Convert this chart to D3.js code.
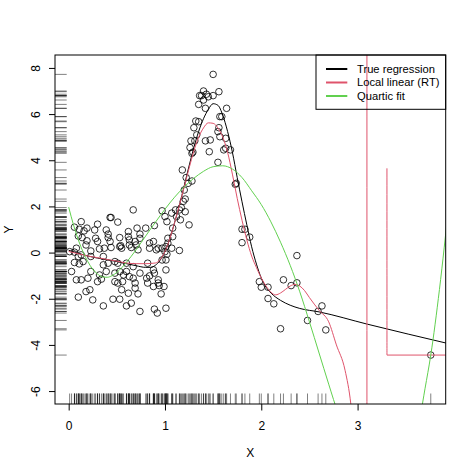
<!DOCTYPE html>
<html>
<head>
<meta charset="utf-8">
<script src="https://cdn.jsdelivr.net/npm/d3@7"></script>
<style>
body { margin: 0; background: #fff; }
text { font-family: "Liberation Sans", Arial, Helvetica, sans-serif; }
</style>
</head>
<body>
<div id="chart"></div>
<script>
// scatter points
const pointX = [0.67,0.43,0.44,0.97,1.00,1.02,0.13,0.06,0.11,0.16,
  0.19,0.30,0.27,0.39,0.41,0.62,0.62,0.71,0.74,0.80,
  0.89,0.51,1.08,0.10,0.14,0.19,0.28,0.30,0.41,0.43,
  0.53,0.63,0.69,0.74,0.84,0.88,1.03,1.08,0.37,0.44,
  0.53,0.54,0.55,0.32,0.65,0.72,0.84,0.93,1.07,0.01,
  0.06,0.23,0.08,0.18,0.63,0.70,1.01,1.15,0.91,0.06,
  0.11,0.15,0.13,0.10,0.23,0.36,0.41,0.36,0.48,0.51,
  0.60,0.67,0.82,1.01,0.03,0.23,0.32,0.34,0.30,0.39,
  0.48,0.53,0.57,0.60,0.63,0.67,0.74,0.81,0.84,0.89,
  0.93,1.01,0.08,0.13,0.20,0.48,0.51,0.56,0.69,0.69,
  0.82,0.88,0.99,0.18,0.22,0.55,0.62,0.72,0.96,0.10,
  0.25,0.46,0.53,0.65,0.60,0.36,0.74,0.89,0.92,1.01,
  0.97,1.00,1.02,0.97,0.88,0.93,0.94,1.03,1.25,1.16,
  1.11,1.15,1.17,1.21,1.21,1.19,1.12,1.07,1.18,1.22,
  1.28,1.24,1.20,1.26,1.28,1.29,1.27,1.31,1.33,1.30,
  1.32,1.35,1.35,1.42,1.40,1.36,1.38,1.40,1.43,1.45,
  1.50,1.56,1.50,1.64,1.57,1.59,1.56,1.55,1.57,1.63,
  1.42,1.47,1.61,1.63,1.68,1.46,1.55,1.73,1.74,1.80,
  1.83,1.88,1.80,2.37,1.98,2.00,2.07,2.23,2.31,2.37,
  2.07,2.13,2.20,2.63,2.59,2.48,2.67,3.76];
const pointY = [1.85,1.52,1.52,1.81,1.56,1.34,1.34,1.10,1.01,0.94,
  1.06,1.23,0.98,0.98,0.80,0.91,0.69,1.06,0.80,1.06,
  1.17,1.32,1.06,0.72,0.65,0.51,0.62,0.48,0.65,0.48,
  0.65,0.55,0.48,0.62,0.41,0.48,0.62,0.69,0.19,0.22,
  0.26,0.30,0.19,0.16,0.22,0.12,0.19,0.19,0.19,0.04,
  0.02,0.07,0.19,0.33,0.33,0.33,0.26,0.09,0.12,-0.43,
  -0.49,-0.39,-0.10,-0.17,-0.17,-0.17,-0.46,-0.53,-0.39,-0.46,
  -0.46,-0.61,-0.46,-0.32,-0.82,-0.82,-0.97,-1.15,-1.26,-0.82,
  -0.89,-0.82,-0.97,-0.82,-1.04,-1.11,-0.89,-1.11,-1.01,-0.89,
  -1.32,-0.75,-1.18,-1.18,-1.11,-1.26,-1.32,-1.26,-1.32,-1.54,
  -1.32,-1.47,-1.47,-1.69,-1.61,-1.61,-1.76,-1.79,-1.79,-1.93,
  -2.05,-2.02,-2.02,-2.19,-2.31,-2.31,-2.55,-2.45,-2.62,-2.41,
  0.19,0.04,-0.07,-0.32,-0.75,-1.18,-1.43,0.41,1.20,1.42,
  1.85,1.85,1.95,1.77,2.32,2.22,1.56,1.71,3.58,3.25,
  3.10,3.00,2.71,4.55,4.30,4.35,4.84,4.84,5.10,5.41,
  5.70,5.67,6.42,6.25,6.61,6.80,6.80,7.00,6.86,6.75,
  6.80,6.97,7.72,6.25,5.89,5.89,5.41,5.24,5.02,4.95,
  4.84,4.88,4.45,4.52,4.45,4.37,3.91,2.96,3.00,1.01,
  1.01,0.67,0.43,-0.13,-1.26,-1.50,-1.50,-1.18,-1.43,-1.31,
  -1.99,-2.22,-3.30,-2.31,-2.55,-2.94,-3.35,-4.44];

// true regression curve
const trueX = [0,0.1,0.2,0.3,0.4,0.5,0.6,0.7,0.8,0.85,0.9,0.95,1.0,1.05,1.1,1.15,1.2,1.25,1.3,1.35,
  1.4,1.45,1.5,1.55,1.6,1.65,1.7,1.75,1.8,1.85,1.9,1.95,2.0,2.05,2.1,2.2,2.3,2.4,2.6,3.1,3.95];
const trueY = [0.10,-0.03,-0.15,-0.24,-0.31,-0.39,-0.48,-0.57,-0.64,-0.64,-0.55,-0.33,0.05,0.60,1.30,2.05,2.90,3.75,4.55,5.25,
  5.80,6.20,6.45,6.38,5.95,5.25,4.35,3.25,2.20,1.20,0.25,-0.50,-1.10,-1.50,-1.75,-2.07,-2.28,-2.42,-2.57,-3.10,-3.95];

// local linear (RT) estimate, null = no value
const localX = [0,0.1,0.2,0.3,0.4,0.5,0.6,0.7,0.8,0.9,0.95,1.0,1.05,1.1,1.15,1.2,1.25,1.3,1.35,1.4,
  1.45,1.5,1.55,1.6,1.65,1.7,1.75,1.8,1.85,1.9,1.95,2.0,2.05,2.1,2.15,2.2,2.25,2.3,2.35,2.4,
  2.45,2.5,2.6,2.7,2.78,2.87,2.93,3.0,3.06,3.0969,3.0971,3.2,3.3049,3.3051,3.95];
const localY = [0.05,-0.05,-0.15,-0.22,-0.30,-0.37,-0.45,-0.48,-0.48,-0.45,-0.30,0.05,0.60,1.30,2.05,2.85,3.65,4.40,5.00,5.40,
  5.62,5.60,5.40,5.00,4.35,3.40,2.35,1.40,0.55,-0.15,-0.65,-1.10,-1.45,-1.72,-1.83,-1.75,-1.60,-1.45,-1.38,-1.45,
  -1.65,-1.95,-2.50,-3.00,-4.00,-5.10,-6.56,-10,-30,-300,300,null,3.65,-4.44,-4.44];

// quartic fit
const quartX = [0,0.05,0.1,0.15,0.2,0.25,0.3,0.35,0.4,0.45,0.5,0.55,0.6,0.65,0.7,0.75,0.8,0.85,0.9,0.95,
  1.0,1.1,1.2,1.3,1.4,1.5,1.6,1.7,1.8,1.9,2.0,2.1,2.2,2.3,2.4,2.5,2.6,2.7,2.8,3.0,
  3.2,3.4,3.55,3.65,3.7,3.76,3.85,3.95];
const quartY = [1.97,1.20,0.55,0.02,-0.40,-0.72,-0.93,-1.05,-1.07,-1.00,-0.86,-0.66,-0.42,-0.16,0.12,0.42,0.72,1.02,1.31,1.60,
  1.88,2.40,2.85,3.22,3.52,3.72,3.76,3.62,3.25,2.68,2.08,1.33,0.45,-0.55,-1.70,-3.00,-4.35,-5.70,-7.00,-9.00,
  -10.0,-9.9,-8.8,-7.1,-5.9,-4.44,-1.6,2.2];

const xTicks = [0, 1, 2, 3];
const yTicks = [-6, -4, -2, 0, 2, 4, 6, 8];
const legendLabels = ['True regression', 'Local linear (RT)', 'Quartic fit'];
const colors = ['#000000', '#DF536B', '#61D04F'];

const W = 474, H = 474;
const margin = { top: 55, right: 28.3, bottom: 70, left: 55 };

const svg = d3.select('#chart').append('svg')
    .attr('width', W)
    .attr('height', H);
svg.append('rect').attr('width', W).attr('height', H).attr('fill', '#fff');

const x = d3.scaleLinear().domain([-0.142, 3.915]).range([margin.left, W - margin.right]);
const y = d3.scaleLinear().domain([-6.56, 8.56]).range([H - margin.bottom, margin.top]);
const [x0, x1] = x.range(), [y0, y1] = y.range();

svg.append('clipPath').attr('id', 'plotclip')
  .append('rect').attr('x', x0).attr('y', y1).attr('width', x1 - x0).attr('height', y0 - y1);

// axes
svg.append('g')
    .attr('transform', `translate(0,${y0})`)
    .call(d3.axisBottom(x).tickValues(xTicks).tickFormat(d => String(d)).tickSize(6.5).tickSizeOuter(0).tickPadding(11))
    .call(g => g.select('.domain').remove())
    .attr('font-size', 12).attr('font-family', null)
    .call(g => g.selectAll('text').attr('fill', '#000'));

svg.append('g')
    .attr('transform', `translate(${x0},0)`)
    .call(d3.axisLeft(y).tickValues(yTicks).tickFormat(d => String(d)).tickSize(6).tickSizeOuter(0))
    .call(g => g.select('.domain').remove())
    .attr('font-size', 12).attr('font-family', null)
    .call(g => g.selectAll('text')
        .attr('fill', '#000')
        .attr('x', 0)
        .attr('dy', '0.35em')
        .attr('text-anchor', 'middle')
        .attr('transform', 'translate(-19.5,0) rotate(-90)'));

// rugs
svg.append('g').selectAll('line').data(pointX).join('line')
    .attr('x1', d => x(d)).attr('x2', d => x(d))
    .attr('y1', y0).attr('y2', y0 - 10.5)
    .attr('stroke', '#000').attr('stroke-width', 0.5);

svg.append('g').selectAll('line').data(pointY).join('line')
    .attr('y1', d => y(d)).attr('y2', d => y(d))
    .attr('x1', x0).attr('x2', x0 + 11.7)
    .attr('stroke', '#000').attr('stroke-width', 0.5);

// points
svg.append('g').selectAll('circle').data(d3.zip(pointX, pointY)).join('circle')
    .attr('cx', d => x(d[0]))
    .attr('cy', d => y(d[1]))
    .attr('r', 3.3)
    .attr('fill', 'none')
    .attr('stroke', '#000')
    .attr('stroke-width', 0.8);

// curves
const line = d3.line()
    .defined(d => d[1] !== null)
    .x(d => x(d[0]))
    .y(d => y(d[1]))
    .curve(d3.curveMonotoneX);

const curves = [d3.zip(trueX, trueY), d3.zip(localX, localY), d3.zip(quartX, quartY)];
svg.append('g').attr('clip-path', 'url(#plotclip)')
    .selectAll('path').data(curves).join('path')
    .attr('d', line)
    .attr('fill', 'none')
    .attr('stroke', (d, i) => colors[i])
    .attr('stroke-width', 1);

// box
svg.append('rect')
    .attr('x', x0).attr('y', y1)
    .attr('width', x1 - x0).attr('height', y0 - y1)
    .attr('fill', 'none').attr('stroke', '#000').attr('stroke-width', 1);

// axis titles
svg.append('text')
    .attr('x', (x0 + x1) / 2).attr('y', 452.7).attr('dy', '0.35em')
    .attr('text-anchor', 'middle').attr('font-size', 12)
    .text('X');
svg.append('text')
    .attr('transform', `translate(8.3,${(y0 + y1) / 2}) rotate(-90)`)
    .attr('dy', '0.35em')
    .attr('text-anchor', 'middle').attr('font-size', 12)
    .text('Y');

// legend
const legend = svg.append('g');
legend.append('rect')
    .attr('x', 316).attr('y', y1)
    .attr('width', x1 - 316).attr('height', 54.3)
    .attr('fill', 'none').attr('stroke', '#000').attr('stroke-width', 1);
const rows = legend.selectAll('g').data(legendLabels).join('g')
    .attr('transform', (d, i) => `translate(0,${69 + i * 13.5})`);
rows.append('line')
    .attr('x1', 326).attr('x2', 347.3)
    .attr('stroke', (d, i) => colors[i]).attr('stroke-width', 2);
rows.append('text')
    .attr('x', 357).attr('dy', '0.35em')
    .attr('font-size', 11.2)
    .text(d => d);
</script>
</body>
</html>
